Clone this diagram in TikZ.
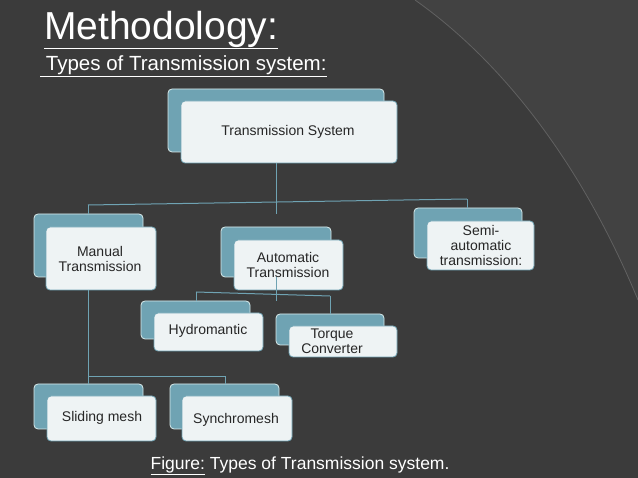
\documentclass[tikz,border=0pt]{standalone}
\usepackage{fontspec}
\setmainfont{Liberation Sans}
\begin{document}
\begin{tikzpicture}[x=1pt,y=-1pt,
  backbox/.style={draw=white!85!teal,line width=0.8pt,fill=bteal,rounded corners=4pt},
  frontbox/.style={draw=bteal,line width=0.8pt,fill=bfront,rounded corners=4pt},
  lbl/.style={align=center,font=\fontsize{14}{15}\selectfont,text=black!85},
  conn/.style={draw=bteal,line width=1pt}]
\definecolor{bteal}{HTML}{6FA3B3}
\definecolor{bfront}{HTML}{EEF3F4}
\definecolor{bg}{HTML}{3B3B3B}
\fill[bg] (0,0) rectangle (638,478);
\useasboundingbox (0,0) rectangle (638,478);
\fill[black!74] (415,0) -- (638,0) -- (638,300) .. controls (580,160) and (500,60) .. (415,0);
\draw[black!62,line width=0.8pt] (415,0) .. controls (500,60) and (580,160) .. (638,300);
% title
\node[anchor=west,text=white,font=\fontsize{39}{41}\selectfont,inner sep=0] (title) at (44,30) {\underline{Methodology:}};
\node[anchor=west,text=white,font=\fontsize{20.5}{22}\selectfont,inner sep=0] (sub) at (40,66) {\underline{\ Types of Transmission system:}};
% boxes
\path[backbox] (168,89) rectangle (384,152);
\path[frontbox] (181,101) rectangle (397,163);
\node[lbl] (ts) at (288,132) {Transmission System};
\path[backbox] (34,214) rectangle (143,277);
\path[frontbox] (46,227) rectangle (156,290);
\node[lbl] (man) at (100,259) {Manual\\Transmission};
\path[backbox] (221,227) rectangle (331,277);
\path[frontbox] (234,240) rectangle (343,290);
\node[lbl] (aut) at (288,265) {Automatic\\Transmission};
\path[backbox] (414,208) rectangle (522,258);
\path[frontbox] (427,221) rectangle (534,270);
\node[lbl] (semi) at (481,245) {Semi-\\automatic\\transmission:};
\path[backbox] (141,301) rectangle (250,339);
\path[frontbox] (154,313) rectangle (263,351);
\node[lbl] (hyd) at (208,331) {Hydromantic};
\path[backbox] (276,314) rectangle (384,345);
\path[frontbox] (289,326) rectangle (397,357);
\node[lbl] (tc) at (332,341) {Torque\\Converter};
\path[backbox] (34,384) rectangle (143,429);
\path[frontbox] (47,396) rectangle (156,441);
\node[lbl] (sm) at (102,418) {Sliding mesh};
\path[backbox] (170,384) rectangle (279,429);
\path[frontbox] (182,396) rectangle (292,441);
\node[lbl] (syn) at (236,420) {Synchromesh};
% connectors
\draw[conn] (276,163) -- (276,214);
\draw[conn] (88,205) -- (467,199);
\draw[conn] (88,205) -- (88,214);
\draw[conn] (467,199) -- (467,208);
\draw[conn] (276,277) -- (276,301);
\draw[conn] (196,292) -- (330,296);
\draw[conn] (196,292) -- (196,301);
\draw[conn] (330,296) -- (330,314);
\draw[conn] (88,290) -- (88,384);
\draw[conn] (88,377) -- (225,377) -- (225,384);
% caption
\node[text=white,font=\fontsize{17.5}{19}\selectfont,inner sep=0] (cap) at (300,466) {\underline{Figure:} Types of Transmission system.};
\end{tikzpicture}
\end{document}
